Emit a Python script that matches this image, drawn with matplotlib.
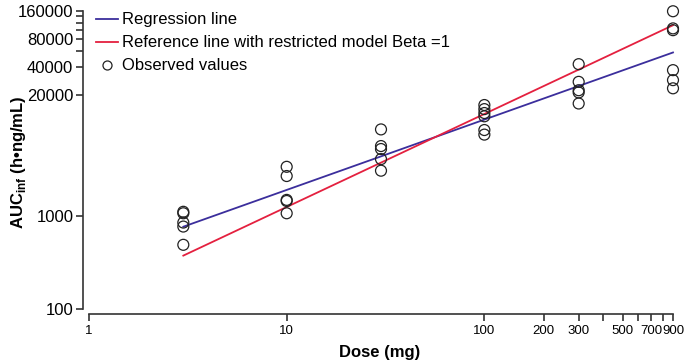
"""Dose vs AUCinf log-log plot with regression and Beta=1 reference lines."""

import matplotlib
matplotlib.use("Agg")
import matplotlib.pyplot as plt
from matplotlib.lines import Line2D

plt.rcParams["font.family"] = ["Liberation Sans", "DejaVu Sans"]
plt.rcParams["mathtext.fontset"] = "custom"
plt.rcParams["mathtext.rm"] = "Liberation Sans"
plt.rcParams["mathtext.bf"] = "Liberation Sans:bold"

# ── observed values (dose in mg, AUCinf in h·ng/mL) ──
dose_obs = [3] * 5 + [10] * 5 + [30] * 5 + [100] * 6 + [300] * 5 + [900] * 6
auc_obs = [
    1110, 1070, 850, 770, 490,                     # 3 mg
    3380, 2690, 1490, 1450, 1070,                  # 10 mg
    8530, 5650, 5250, 4090, 3070,                  # 30 mg
    15600, 14100, 12800, 11800, 8400, 7500,        # 100 mg
    42900, 27700, 22500, 21300, 16200,             # 300 mg
    159000, 104000, 99500, 37000, 28900, 23600,    # 900 mg
]

# ── fitted lines (end points) ──
line_dose = [3, 900]
reg_auc = [767, 57300]        # power-model regression
ref_auc = [375, 112500]       # restricted model, Beta = 1

# ── axis ticks ──
x_ticks = [1, 10, 100, 200, 300, 400, 500, 600, 700, 800, 900]
x_labels = ["1", "10", "100", "200", "300", "", "500", "", "700", "", "900"]
y_ticks = [100, 1000, 20000, 40000, 60000, 80000, 100000, 120000, 140000, 160000]
y_labels = ["100", "1000", "20000", "40000", "", "80000", "", "", "", "160000"]

BLUE = "#3b2e9c"
RED = "#e4203f"
AX_COL = "#333333"

W, H = 685, 364
fig = plt.figure(figsize=(W / 100, H / 100), dpi=100)
ax = fig.add_axes([89 / W, 1 - 309 / H, (673 - 89) / W, (309 - 11) / H])
ax.set_xscale("log")
ax.set_yscale("log")
ax.set_xlim(1, 900)
ax.set_ylim(100, 160000)

ax.plot(line_dose, reg_auc, color=BLUE, lw=1.3, clip_on=False,
        label="Regression line")
ax.plot(line_dose, ref_auc, color=RED, lw=1.3, clip_on=False,
        label="Reference line with restricted model Beta =1")
ax.scatter(dose_obs, auc_obs, s=62, facecolors="none", edgecolors="#222222",
           linewidths=0.9, clip_on=False, zorder=3)

# ── axes styling ──
for side in ("top", "right"):
    ax.spines[side].set_visible(False)
ax.spines["left"].set_position(("outward", 4.3))
ax.spines["bottom"].set_position(("outward", 3.6))
for side in ("left", "bottom"):
    ax.spines[side].set_color(AX_COL)
    ax.spines[side].set_linewidth(1.2)

ax.xaxis.set_major_locator(matplotlib.ticker.FixedLocator(x_ticks))
ax.xaxis.set_minor_locator(matplotlib.ticker.NullLocator())
ax.set_xticklabels(x_labels)
ax.yaxis.set_major_locator(matplotlib.ticker.FixedLocator(y_ticks))
ax.yaxis.set_minor_locator(matplotlib.ticker.NullLocator())
ax.set_yticklabels(y_labels)

ax.tick_params(axis="both", direction="out", length=5, width=1.2, color=AX_COL)
ax.tick_params(axis="y", labelsize=12, pad=2)
ax.tick_params(axis="x", labelsize=9.5, pad=3)
for t in ax.get_xticklabels():
    t.set_family(["Liberation Sans Narrow", "Liberation Sans"])

fig.text(380 / W, 1 - 352 / H, "Dose (mg)", ha="center", va="center",
         fontsize=12, fontweight="bold")
fig.text(19 / W, 1 - 162 / H, r"AUC$_{\mathbf{inf}}$ (h•ng/mL)",
         ha="center", va="center", rotation=90, fontsize=12, fontweight="bold")

handles = [
    Line2D([], [], color=BLUE, lw=1.3),
    Line2D([], [], color=RED, lw=1.3),
    Line2D([], [], ls="none", marker="o", ms=6.5, mfc="none",
           mec="#222222", mew=0.9),
]
labels = ["Regression line",
          "Reference line with restricted model Beta =1",
          "Observed values"]
fig.legend(handles, labels, loc="upper left",
           bbox_to_anchor=(93 / W, 1 - 9 / H), frameon=False, fontsize=12,
           handlelength=1.3, handletextpad=0.25, labelspacing=0.48,
           borderaxespad=0, borderpad=0.2)

fig.savefig("out.png", dpi=100)
